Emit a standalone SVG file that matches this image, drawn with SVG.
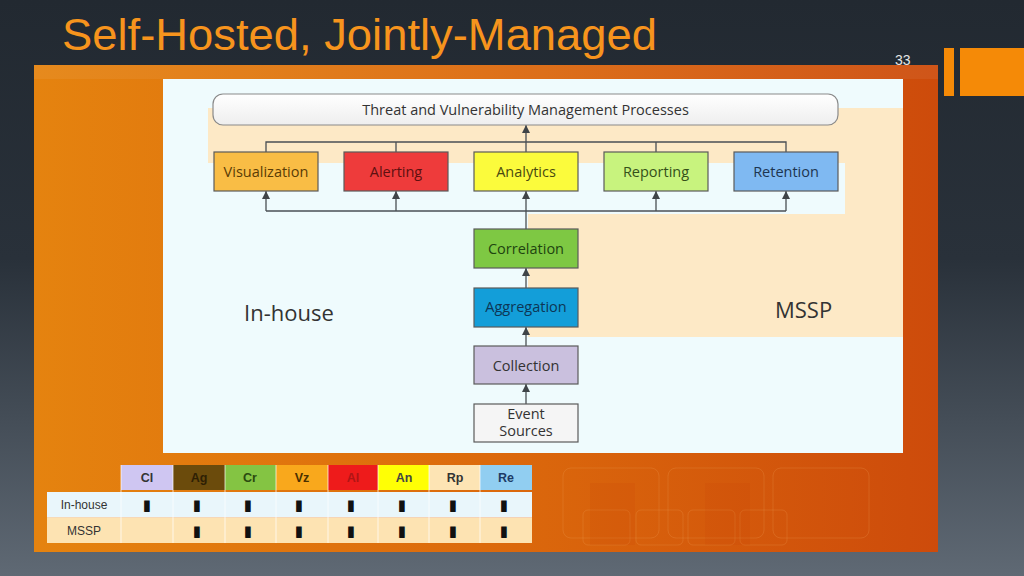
<svg xmlns="http://www.w3.org/2000/svg" width="1024" height="576" viewBox="0 0 1024 576">
  <defs>
    <linearGradient id="bg" x1="0" y1="0" x2="0" y2="1">
      <stop offset="0" stop-color="#222931"/>
      <stop offset="0.45" stop-color="#29313a"/>
      <stop offset="1" stop-color="#5f6974"/>
    </linearGradient>
    <linearGradient id="panel" x1="0" y1="0" x2="1" y2="0">
      <stop offset="0" stop-color="#e5830f"/>
      <stop offset="0.5" stop-color="#dc6a0c"/>
      <stop offset="1" stop-color="#cd4b0b"/>
    </linearGradient>
    <linearGradient id="titlebox" x1="0" y1="0" x2="0" y2="1">
      <stop offset="0" stop-color="#ffffff"/>
      <stop offset="1" stop-color="#eeeeee"/>
    </linearGradient>
    <marker id="arr" viewBox="0 0 10 10" refX="10" refY="5" markerWidth="8" markerHeight="8" markerUnits="userSpaceOnUse" orient="auto">
      <path d="M0,0 L10,5 L0,10 Z" fill="#3f4448"/>
    </marker>
    <style>
      .ttl{font-family:"Liberation Sans",Arial,sans-serif;font-size:45px;fill:#f7941d}
      .num{font-family:"Liberation Sans",Arial,sans-serif;font-size:14px;fill:#e6e6e6}
      .lbl{font-family:"Open Sans","Noto Sans",sans-serif;font-size:14.5px;text-anchor:middle}
      .zone{font-family:"Open Sans","Noto Sans",sans-serif;font-size:22px;fill:#333}
      .box{stroke:#5a5a5a;stroke-width:1.2}
      .ln{fill:none;stroke:#4a4f54;stroke-width:1.3}
      .th{font-family:"Liberation Sans",Arial,sans-serif;font-size:12.5px;font-weight:bold;text-anchor:middle}
      .td{font-family:"Liberation Sans",Arial,sans-serif;font-size:12px;fill:#333;text-anchor:middle}
      .mk{font-family:"DejaVu Sans",sans-serif;font-size:15px;fill:#111;text-anchor:middle}
      .deco{fill:none;stroke:#f3a45a;stroke-opacity:0.22;stroke-width:1}
    </style>
  </defs>

  <!-- slide background -->
  <rect x="0" y="0" width="1024" height="576" fill="url(#bg)"/>
  <text class="ttl" x="62" y="50" textLength="595" lengthAdjust="spacingAndGlyphs">Self-Hosted, Jointly-Managed</text>
  <text class="num" x="895" y="65">33</text>
  <rect x="944" y="48" width="10" height="48" fill="#f58a07"/>
  <rect x="960" y="48" width="64" height="48" fill="#f58a07"/>

  <!-- orange panel -->
  <rect x="34" y="65" width="904" height="487" fill="url(#panel)"/>
  <rect x="34" y="65" width="904" height="14" fill="#ffffff" opacity="0.06"/>
  <g id="decoration">
    <rect class="deco" x="563" y="468" width="96" height="70" rx="8"/>
    <rect class="deco" x="668" y="468" width="96" height="70" rx="8"/>
    <rect class="deco" x="773" y="468" width="96" height="70" rx="8"/>
    <rect class="deco" x="583" y="510" width="47" height="35" rx="5"/>
    <rect class="deco" x="636" y="510" width="47" height="35" rx="5"/>
    <rect class="deco" x="688" y="510" width="47" height="35" rx="5"/>
    <rect class="deco" x="740" y="510" width="47" height="35" rx="5"/>
    <rect x="590" y="483" width="45" height="62" fill="#c8400a" opacity="0.15"/>
    <rect x="705" y="483" width="45" height="62" fill="#c8400a" opacity="0.15"/>
  </g>

  <!-- diagram picture -->
  <rect x="163" y="79" width="740" height="374" fill="#effbfd"/>
  <path d="M208,108 H903 V337 H528 V214 H845 V163 H208 Z" fill="#fde9c6"/>

  <text class="zone" x="244" y="321">In-house</text>
  <text class="zone" x="775" y="318">MSSP</text>

  <g id="connectors">
    <line class="ln" x1="526" y1="152" x2="526" y2="125" marker-end="url(#arr)"/>
    <path class="ln" d="M266,152 V142 H786 V152 M396,142 V152 M656,142 V152"/>
    <path class="ln" d="M266,211 H786"/>
    <line class="ln" x1="266" y1="211" x2="266" y2="191" marker-end="url(#arr)"/>
    <line class="ln" x1="396" y1="211" x2="396" y2="191" marker-end="url(#arr)"/>
    <line class="ln" x1="526" y1="229" x2="526" y2="191" marker-end="url(#arr)"/>
    <line class="ln" x1="656" y1="211" x2="656" y2="191" marker-end="url(#arr)"/>
    <line class="ln" x1="786" y1="211" x2="786" y2="191" marker-end="url(#arr)"/>
    <line class="ln" x1="526" y1="288" x2="526" y2="268" marker-end="url(#arr)"/>
    <line class="ln" x1="526" y1="346" x2="526" y2="327" marker-end="url(#arr)"/>
    <line class="ln" x1="526" y1="404" x2="526" y2="384" marker-end="url(#arr)"/>
  </g>

  <g id="tvm">
    <rect x="213" y="94" width="625" height="31" rx="10" fill="url(#titlebox)" stroke="#8a8a8a" stroke-width="1.2"/>
    <text class="lbl" x="525.5" y="115" fill="#333" font-size="15.5px">Threat and Vulnerability Management Processes</text>
  </g>
  <g id="visualization">
    <rect class="box" x="214" y="152" width="104" height="39" fill="#f9bd45"/>
    <text class="lbl" x="266" y="176.5" fill="#5a3c05">Visualization</text>
  </g>
  <g id="alerting">
    <rect class="box" x="344" y="152" width="104" height="39" fill="#ee3b3b"/>
    <text class="lbl" x="396" y="176.5" fill="#5e1010">Alerting</text>
  </g>
  <g id="analytics">
    <rect class="box" x="474" y="152" width="104" height="39" fill="#fbfb3c"/>
    <text class="lbl" x="526" y="176.5" fill="#4a4a10">Analytics</text>
  </g>
  <g id="reporting">
    <rect class="box" x="604" y="152" width="104" height="39" fill="#c8f37e"/>
    <text class="lbl" x="656" y="176.5" fill="#35501a">Reporting</text>
  </g>
  <g id="retention">
    <rect class="box" x="734" y="152" width="104" height="39" fill="#7fb9f2"/>
    <text class="lbl" x="786" y="176.5" fill="#1d3550">Retention</text>
  </g>
  <g id="correlation">
    <rect class="box" x="474" y="229" width="104" height="39" fill="#7ec843"/>
    <text class="lbl" x="526" y="253.5" fill="#1f4410">Correlation</text>
  </g>
  <g id="aggregation">
    <rect class="box" x="474" y="288" width="104" height="39" fill="#139ed9"/>
    <text class="lbl" x="526" y="312" fill="#0d3656">Aggregation</text>
  </g>
  <g id="collection">
    <rect class="box" x="474" y="346" width="104" height="38" fill="#cac0de"/>
    <text class="lbl" x="526" y="370.5" fill="#333">Collection</text>
  </g>
  <g id="event-sources">
    <rect class="box" x="474" y="404" width="104" height="38" fill="#f5f5f5"/>
    <text class="lbl" x="526" y="419" fill="#333" font-size="12.5px">Event</text>
    <text class="lbl" x="526" y="436" fill="#333" font-size="12.5px">Sources</text>
  </g>

  <!-- table -->
  <g id="table">
    <rect x="47" y="492" width="485" height="25" fill="#e9f6fb"/>
    <rect x="47" y="518" width="485" height="25" fill="#fde3b2"/>
    <rect x="121" y="465" width="52" height="25" fill="#cfc6f2"/>
    <rect x="173" y="465" width="52" height="25" fill="#6b4b0c"/>
    <rect x="225" y="465" width="51" height="25" fill="#84c443"/>
    <rect x="276" y="465" width="52" height="25" fill="#f9a81c"/>
    <rect x="328" y="465" width="50" height="25" fill="#ee1b1b"/>
    <rect x="378" y="465" width="51" height="25" fill="#ffff05"/>
    <rect x="429" y="465" width="51" height="25" fill="#fde4b4"/>
    <rect x="480" y="465" width="52" height="25" fill="#91cef1"/>
    <path d="M121,465 V543 M173,465 V543 M225,465 V543 M276,465 V543 M328,465 V543 M378,465 V543 M429,465 V543 M480,465 V543 M47,517.5 H532" stroke="#ffffff" stroke-opacity="0.7" stroke-width="1"/>
    <text class="th" x="147" y="482" fill="#333">Cl</text>
    <text class="th" x="199" y="482" fill="#2e2004">Ag</text>
    <text class="th" x="250" y="482" fill="#2b4a10">Cr</text>
    <text class="th" x="302" y="482" fill="#4a3000">Vz</text>
    <text class="th" x="353" y="482" fill="#b01515">Al</text>
    <text class="th" x="404" y="482" fill="#444">An</text>
    <text class="th" x="455" y="482" fill="#333">Rp</text>
    <text class="th" x="506" y="482" fill="#1d3b66">Re</text>
    <text class="td" x="84" y="509">In-house</text>
    <text class="td" x="84" y="535">MSSP</text>
    <text class="mk" x="147" y="510">▮</text>
    <text class="mk" x="197" y="510">▮</text>
    <text class="mk" x="248" y="510">▮</text>
    <text class="mk" x="299" y="510">▮</text>
    <text class="mk" x="351" y="510">▮</text>
    <text class="mk" x="402" y="510">▮</text>
    <text class="mk" x="453" y="510">▮</text>
    <text class="mk" x="504" y="510">▮</text>
    <text class="mk" x="197" y="536">▮</text>
    <text class="mk" x="248" y="536">▮</text>
    <text class="mk" x="299" y="536">▮</text>
    <text class="mk" x="351" y="536">▮</text>
    <text class="mk" x="402" y="536">▮</text>
    <text class="mk" x="453" y="536">▮</text>
    <text class="mk" x="504" y="536">▮</text>
  </g>
</svg>
